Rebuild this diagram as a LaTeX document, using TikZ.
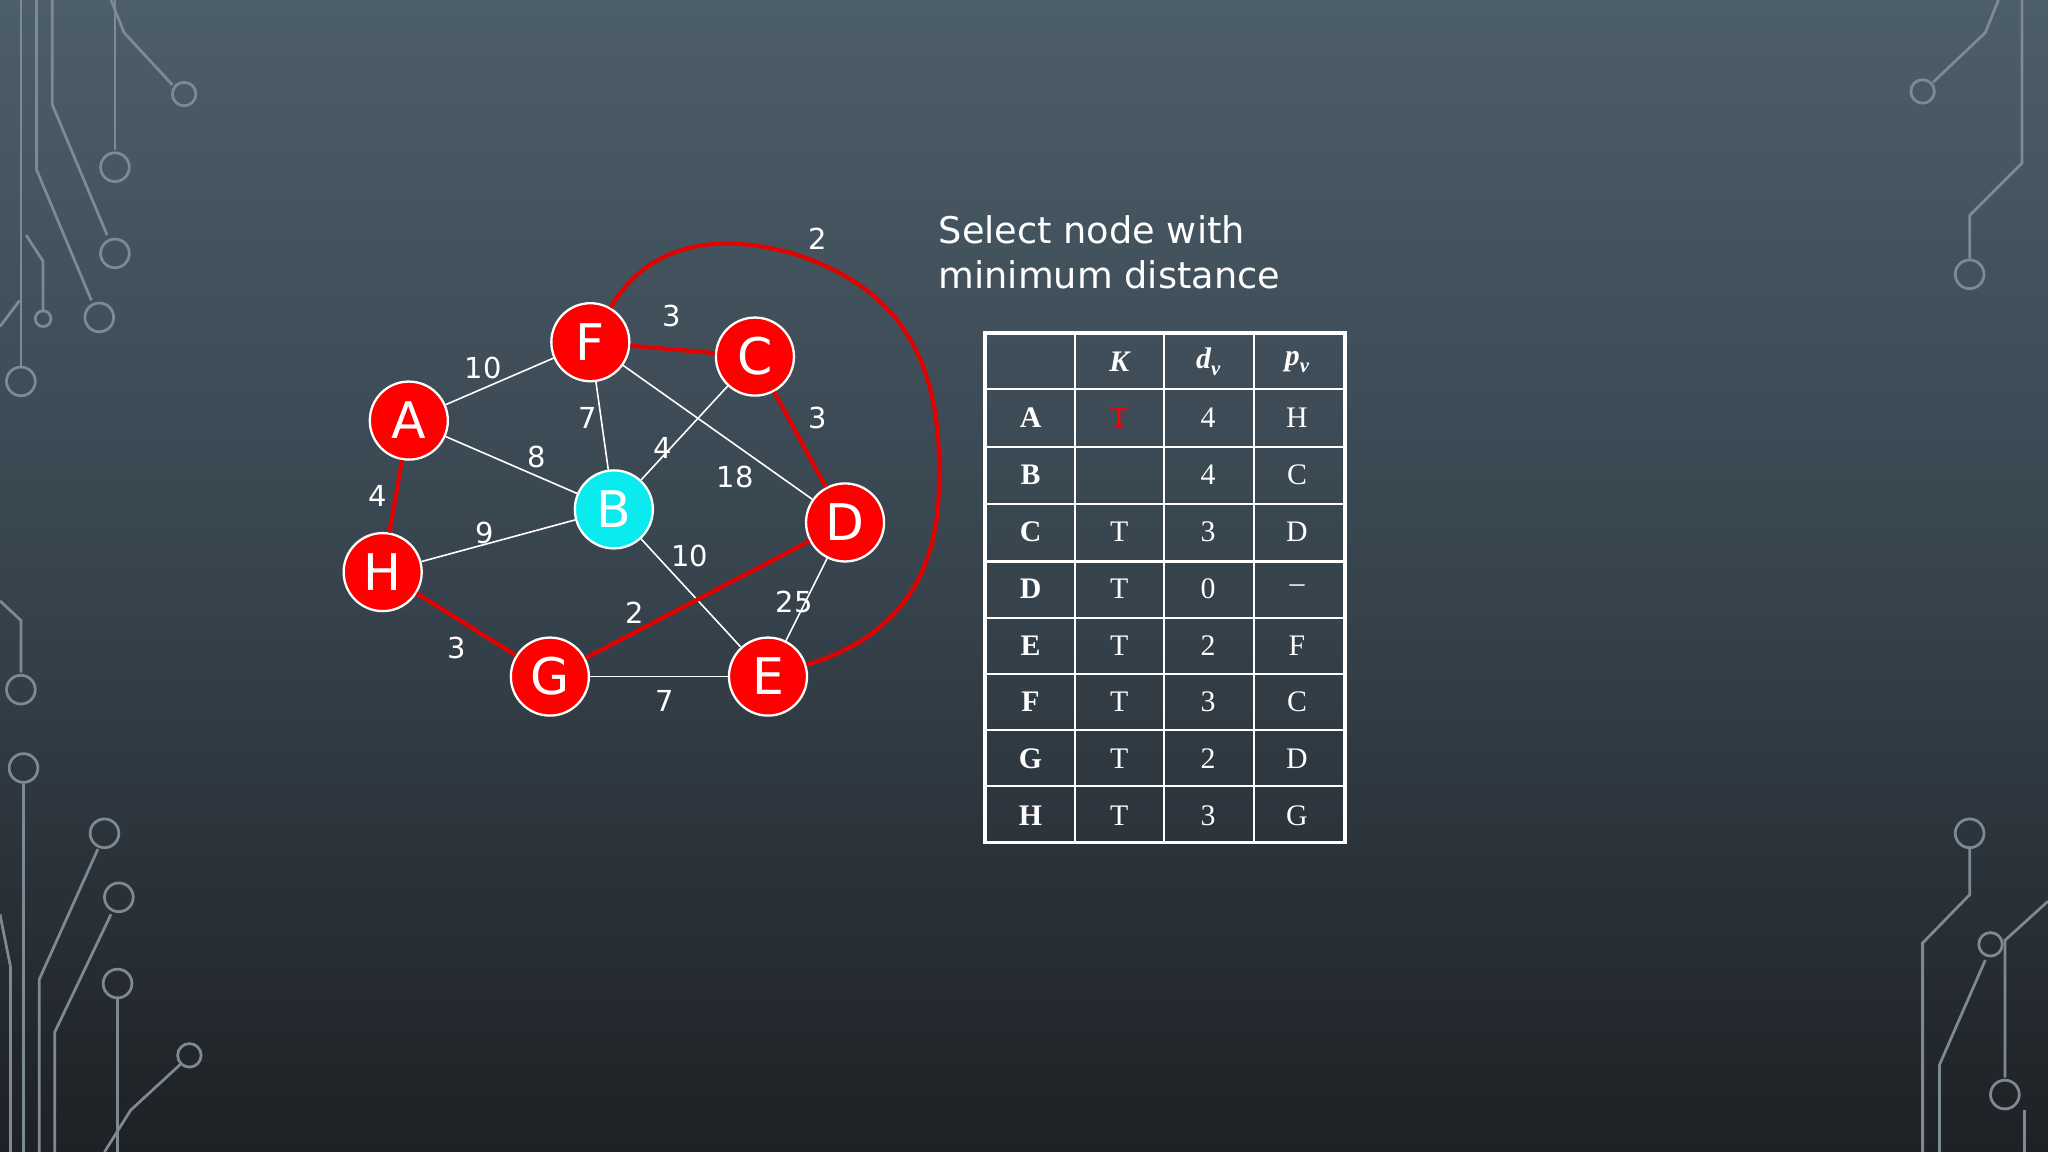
\documentclass[tikz,border=0pt]{standalone}
\usepackage{fontspec}
\setmainfont{Liberation Serif}
\newfontfamily\gsans{DejaVu Sans}
\definecolor{aqua}{RGB}{10,235,240}
\begin{document}
\begin{tikzpicture}[x=0.1mm,y=-0.1mm,
  vtx/.style={circle,fill=red,draw=white,line width=0.5pt,minimum size=17pt,inner sep=0pt,text=white,font=\gsans\fontsize{11}{11}\selectfont},
  wedge/.style={white,line width=0.35pt},
  redge/.style={red!90!black,line width=0.9pt},
  wl/.style={text=white,font=\gsans\fontsize{6.3}{6.3}\selectfont},
  cell/.style={text=white,font=\fontsize{6.5}{6.5}\selectfont}]
\useasboundingbox (0,0) rectangle (1568,882);
\shade[top color={rgb,255:red,76;green,94;blue,106},bottom color={rgb,255:red,30;green,33;blue,37},middle color={rgb,255:red,55;green,68;blue,78}] (0,0) rectangle (1568,882);
\begin{scope}[draw={rgb,255:red,125;green,138;blue,147},line width=0.6pt]
\draw (16,0)--(16,280); \draw (16,292) circle (11);
\draw (28,0)--(28,130)--(70,230); \draw (76,243) circle (11);
\draw (40,0)--(40,80)--(82,180); \draw (88,194) circle (11);
\draw (88,0)--(88,115); \draw (88,128) circle (11);
\draw (85,0)--(95,25)--(132,65); \draw (141,72) circle (9);
\draw (20,180)--(33,200)--(33,238); \draw (33,244) circle (6);
\draw (0,250)--(15,230);
\draw (0,460)--(16,475)--(16,515); \draw (16,528) circle (11);
\draw (18,600)--(18,882); \draw (18,588) circle (11);
\draw (30,882)--(30,750)--(75,650); \draw (80,638) circle (11);
\draw (42,882)--(42,790)--(85,700); \draw (91,687) circle (11);
\draw (90,765)--(90,882); \draw (90,753) circle (11);
\draw (80,882)--(100,850)--(138,815); \draw (145,808) circle (9);
\draw (0,700)--(8,740)--(8,882);
\draw (1530,0)--(1520,25)--(1480,63); \draw (1472,70) circle (9);
\draw (1548,0)--(1548,125)--(1508,165)--(1508,198); \draw (1508,210) circle (11);
\draw (1508,650)--(1508,685)--(1472,722)--(1472,882); \draw (1508,638) circle (11);
\draw (1520,735)--(1485,815)--(1485,882); \draw (1524,723) circle (9);
\draw (1535,825)--(1535,720)--(1568,690); \draw (1535,838) circle (11);
\draw (1550,882)--(1550,850);
\end{scope}
\node[vtx] (F) at (452,262) {F};
\node[vtx] (C) at (578,273) {C};
\node[vtx] (A) at (313,322) {A};
\node[vtx,fill=aqua] (B) at (470,390) {B};
\node[vtx] (D) at (647,400) {D};
\node[vtx] (H) at (293,438) {H};
\node[vtx] (G) at (421,518) {G};
\node[vtx] (E) at (588,518) {E};
\draw[wedge] (A)--(F); \draw[wedge] (A)--(B); \draw[wedge] (F)--(B);
\draw[wedge] (F)--(D); \draw[wedge] (C)--(B); \draw[wedge] (H)--(B);
\draw[wedge] (B)--(E); \draw[wedge] (G)--(E); \draw[wedge] (E)--(D);
\draw[redge] (F)--(C); \draw[redge] (C)--(D); \draw[redge] (A)--(H);
\draw[redge] (H)--(G); \draw[redge] (G)--(D);
\draw[redge] (F) .. controls (500,180) and (560,180) .. (610,195)
  .. controls (700,225) and (725,290) .. (718,390)
  .. controls (712,450) and (680,490) .. (E);
\node[wl] (l1) at (370,282) {10};
\node[wl] (l2) at (514,242) {3};
\node[wl] (l3) at (626,183) {2};
\node[wl] (l4) at (450,320) {7};
\node[wl] (l5) at (507,343) {4};
\node[wl] (l6) at (411,350) {8};
\node[wl] (l7) at (563,365) {18};
\node[wl] (l8) at (626,320) {3};
\node[wl] (l9) at (289,380) {4};
\node[wl] (l10) at (371,408) {9};
\node[wl] (l11) at (528,426) {10};
\node[wl] (l12) at (608,461) {25};
\node[wl] (l13) at (486,469) {2};
\node[wl] (l14) at (350,496) {3};
\node[wl] (l15) at (509,537) {7};
\node[anchor=north west,text=white,align=left,font=\gsans\fontsize{8}{10}\selectfont,inner sep=0pt] (title) at (718,164) {Select node with\\minimum distance};
\draw[white,line width=0.8pt] (754,255) rectangle (1030,645);
\foreach \x in {823,891,960} \draw[white,line width=0.5pt] (\x,255)--(\x,645);
\foreach \y in {298,342,386,430,473,516,559,602} \draw[white,line width=0.5pt] (754,\y)--(1030,\y);
\node[cell,font=\bfseries\itshape\fontsize{6.5}{6.5}\selectfont] (hK) at (857,277) {K};
\node[cell,font=\bfseries\itshape\fontsize{6.5}{6.5}\selectfont] (hd) at (925,277) {d\raisebox{-1.5pt}{\fontsize{4.5}{4.5}\selectfont v}};
\node[cell,font=\bfseries\itshape\fontsize{6.5}{6.5}\selectfont] (hp) at (993,277) {p\raisebox{-1.5pt}{\fontsize{4.5}{4.5}\selectfont v}};
\foreach \r/\k/\d/\p [count=\i from 0] in {A//4/H,B//4/C,C/T/3/D,D/T/0/--,E/T/2/F,F/T/3/C,G/T/2/D,H/T/3/G}{
  \pgfmathsetmacro\yy{320+\i*43.5}
  \node[cell,font=\bfseries\fontsize{6.5}{6.5}\selectfont] (r\i) at (789,\yy) {\r};
  \node[cell] (k\i) at (857,\yy) {\k};
  \node[cell] (d\i) at (925,\yy) {\d};
  \node[cell] (p\i) at (993,\yy) {\p};
}
\node[cell,text=red] (kA) at (857,320) {T};
\end{tikzpicture}
\end{document}
